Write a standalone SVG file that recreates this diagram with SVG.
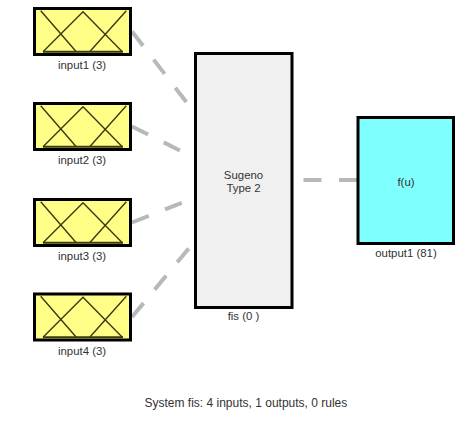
<svg xmlns="http://www.w3.org/2000/svg" width="474" height="422" viewBox="0 0 474 422">
<style>
text{font-family:"Liberation Sans",Arial,sans-serif;font-size:11.4px;fill:#333;text-anchor:middle}
.in{fill:#ffff88;stroke:#000;stroke-width:3}
.mf{fill:none;stroke:#3a3a10;stroke-width:1.4}
.base{stroke:#3a3a10;stroke-width:2}
.con{stroke:#b8b8b8;stroke-width:4;stroke-dasharray:18 17.5;fill:none}
</style>
<defs>
<g id="icon">
<rect class="in" x="1.5" y="1.5" width="96" height="46"/>
<path class="mf" d="M7.7,3.7L43.3,44.7M10,44.7L50,4.7L89.3,44.7M93.3,3.7L56.7,44.7"/>
<line class="base" x1="10" y1="44.7" x2="90" y2="44.7"/>
</g>
</defs>
<g id="connectors">
<line class="con" x1="132" y1="31.5" x2="194" y2="112"/>
<line class="con" x1="132" y1="126.5" x2="194" y2="157.5"/>
<line class="con" x1="132" y1="222.5" x2="194" y2="198"/>
<line class="con" x1="132" y1="317" x2="194" y2="242"/>
<line class="con" x1="357" y1="180" x2="293" y2="180"/>
</g>
<g id="input1"><use href="#icon" x="33" y="7"/><text x="82" y="69">input1 (3)</text></g>
<g id="input2"><use href="#icon" x="33" y="102"/><text x="82" y="164">input2 (3)</text></g>
<g id="input3"><use href="#icon" x="33" y="198"/><text x="82" y="260">input3 (3)</text></g>
<g id="input4"><use href="#icon" x="33" y="292.5"/><text x="82" y="354.5">input4 (3)</text></g>
<g id="fis">
<rect x="195.5" y="53.5" width="96.5" height="254" fill="#f0f0f0" stroke="#000" stroke-width="3"/>
<text x="243.5" y="178.5">Sugeno</text>
<text x="243.5" y="192">Type 2</text>
<text x="243.5" y="320">fis (0 )</text>
</g>
<g id="output1">
<rect x="358" y="117.5" width="95.5" height="126" fill="#80ffff" stroke="#000" stroke-width="3"/>
<text x="406" y="186">f(u)</text>
<text x="406" y="257">output1 (81)</text>
</g>
<text x="144.5" y="407" style="text-anchor:start;font-size:12px">System fis: 4 inputs, 1 outputs, 0 rules</text>
</svg>
